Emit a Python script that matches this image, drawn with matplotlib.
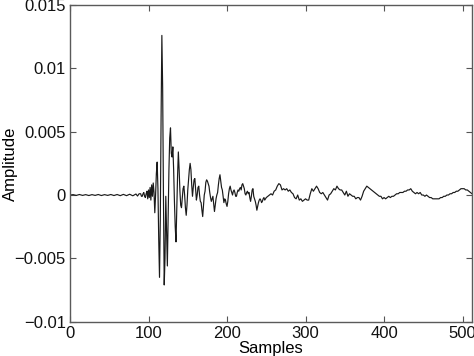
import numpy as np
import matplotlib
matplotlib.use("Agg")
import matplotlib.pyplot as plt

# ---- data ----
quiet_samples = [0, 4, 8, 12, 16, 20, 24, 28, 32, 36, 40, 44, 48, 52, 56, 60, 64,
                 68, 72, 76, 80, 84, 86, 88]
quiet_amp = [0.0, 0.00003, -0.00003, 0.00004, -0.00003, 0.00003, -0.00004, 0.00003,
             -0.00003, 0.00004, -0.00004, 0.00003, -0.00003, 0.00004, -0.00004,
             0.00004, -0.00005, 0.00005, -0.00005, 0.00006, -0.00006, 0.00008,
             -0.00008, 0.0001]

burst_start = 90
burst_amp = [
    0.0001, -0.0001, -0.0001, 0.0001, 0.0002, -0.0001, -0.0002, 0.0001, 0.0003, -0.0003,   # 90-99
    0.0004, -0.0002, 0.0006, -0.0004, 0.0008, -0.0001, 0.00095, 0.0002, -0.0014, 0.0000,   # 100-109
    0.0017, 0.0026, 0.0005, -0.0035, -0.0065, -0.0020, 0.0060, 0.0126, 0.0085, 0.0000,     # 110-119
    -0.0071, -0.0050, -0.0001, -0.0030, -0.0056, -0.0020, 0.0020, 0.0045, 0.0053, 0.0033,  # 120-129
    0.0030, 0.0038, 0.0020, -0.0005, -0.0025, -0.0037, -0.0010, 0.0015, 0.0034, 0.0020,   # 130-139
    0.0003, -0.0008, -0.0010, -0.0002, 0.0005, 0.0007, 0.0000, -0.0010, -0.0016, -0.0008,  # 140-149
    0.0004, 0.0012, 0.0020, 0.0025, 0.0020, 0.0008, -0.0001, 0.0006, 0.0012, 0.0013,      # 150-159
    0.0005, -0.0004, 0.0000, 0.0006, 0.0007, 0.0000, -0.0005, -0.0006, -0.0012, -0.0017,  # 160-169
    -0.0008, 0.0000, 0.0003, 0.0010, 0.0012, 0.0011, 0.0009, 0.0007, 0.0002, -0.0002,    # 170-179
    -0.0005, -0.0003, -0.0001, -0.0007, -0.0013, -0.0008, -0.0003, 0.0000, 0.0002, 0.0008, # 180-189
    0.0013, 0.0016, 0.0011, 0.0006, 0.0004, -0.0001, -0.0006, -0.0003, -0.0004, -0.0007,  # 190-199
    -0.0009, -0.0005, 0.0001, 0.0005, 0.0007, 0.0004, 0.0002, 0.0000, 0.0003, 0.0004,     # 200-209
    0.0002, -0.0001, -0.0001, 0.0002, 0.0004, 0.0003, 0.0005, 0.0006, 0.0004, 0.0008,     # 210-219
    0.0009, 0.0007, 0.0005, 0.0001, 0.0000, 0.0002, 0.0003, 0.0001, 0.0002, -0.0002,      # 220-229
    -0.0005, -0.0001, 0.0004, 0.0005, -0.0001, -0.0003, -0.0005, -0.0008, -0.0012, -0.0009, # 230-239
    -0.0006, -0.0004, -0.0003, -0.0004, -0.0006, -0.0005, -0.0003, -0.0002, -0.0004, -0.0003, # 240-249
]

tail_start = 250
tail_step = 2
tail_amp = [
    -0.0002, -0.0001, 0.0000, 0.0001, 0.0000, 0.0003, 0.0004, 0.0007, 0.0009, 0.0008,     # 250-268
    0.0004, 0.0005, 0.0004, 0.0005, 0.0003, 0.0004, 0.0002, 0.0001, -0.0002, -0.0003,     # 270-288
    0.0000, -0.0004, -0.0003, -0.0005, -0.0004, -0.0003, -0.0004, -0.0004, 0.0001, 0.0005, # 290-308
    0.0003, 0.0005, 0.0007, 0.0005, 0.0002, 0.0001, 0.0002, 0.0000, -0.0002, -0.0004,     # 310-328
    0.0000, 0.0001, 0.0003, 0.0005, 0.0004, 0.0007, 0.0005, 0.0004, 0.0004, 0.0002,       # 330-348
    0.0000, 0.0003, -0.0001, 0.0001, 0.0000, -0.0001, -0.0001, -0.0003, -0.0002, -0.0002, # 350-368
    -0.0004, -0.0001, 0.0003, 0.0005, 0.0007, 0.0006, 0.0005, 0.0004, 0.0003, 0.0002,     # 370-388
    0.0001, 0.0000, -0.0001, -0.0001, -0.0003, -0.0002, -0.0003, -0.0002, -0.0001, -0.0002, # 390-408
    -0.0001, -0.0001, 0.0000, 0.0001, 0.0001, 0.0002, 0.0002, 0.0002, 0.0003, 0.0003,     # 410-428
    0.0004, 0.0004, 0.0005, 0.0003, 0.0002, 0.0001, 0.0002, 0.0001, 0.0002, 0.0000,       # 430-448
    0.0000, -0.0001, 0.0000, -0.0001, -0.0002, -0.0002, -0.0003, -0.0003, -0.0003, -0.0003, # 450-468
    -0.0003, -0.0002, -0.0002, -0.0001, -0.0001, 0.0000, 0.0000, 0.0001, 0.0001, 0.0002,  # 470-488
    0.0002, 0.0003, 0.0003, 0.0004, 0.0005, 0.0005, 0.0005, 0.0004, 0.0004, 0.0003,       # 490-508
    0.0002, 0.0001,                                                                        # 510-512
]

x_ticks = [0, 100, 200, 300, 400, 500]
y_ticks = [-0.01, -0.005, 0, 0.005, 0.01, 0.015]
y_tick_labels = ["\u22120.01", "\u22120.005", "0", "0.005", "0.01", "0.015"]

# ---- assemble series ----
samples = np.concatenate([
    np.array(quiet_samples, dtype=float),
    burst_start + np.arange(len(burst_amp)),
    tail_start + tail_step * np.arange(len(tail_amp)),
])
amplitude = np.concatenate([np.array(quiet_amp), np.array(burst_amp), np.array(tail_amp)])

plt.rcParams['font.family'] = ['Liberation Sans', 'DejaVu Sans']

W, H = 474, 356
ax_left, ax_right, ax_top, ax_bottom = 70, 472, 5, 321.7
fig = plt.figure(figsize=(W / 100, H / 100), dpi=100)
ax = fig.add_axes([ax_left / W, 1 - ax_bottom / H, (ax_right - ax_left) / W,
                   (ax_bottom - ax_top) / H])
ax.plot(samples, amplitude, color='#1a1a1a', linewidth=0.85)

ax.set_xlim(0, 512)
ax.set_ylim(-0.01, 0.015)
ax.set_xticks(x_ticks)
ax.set_xticklabels([str(t) for t in x_ticks])
ax.set_yticks(y_ticks)
ax.set_yticklabels(y_tick_labels)

ax.tick_params(direction='in', top=True, right=True, length=4, width=0.8,
               color='#555555', labelsize=12, labelcolor='#111111', pad=3)
for sp in ax.spines.values():
    sp.set_color('#5a5a5a')
    sp.set_linewidth(1.0)

ax.set_xlabel('Samples', fontsize=12, labelpad=0)
ax.set_ylabel('Amplitude', fontsize=12)
ax.yaxis.set_label_coords((18 - ax_left) / (ax_right - ax_left), 0.5)

fig.savefig('out.png', dpi=100)
